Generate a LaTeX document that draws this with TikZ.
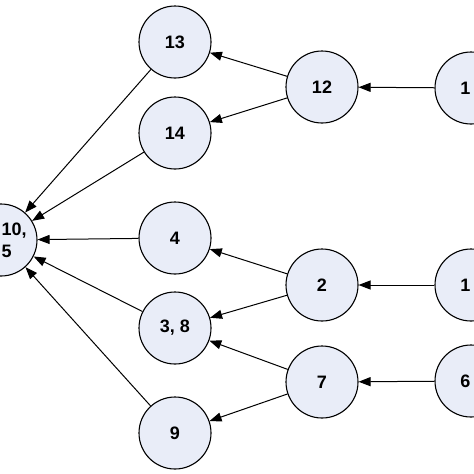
\documentclass[tikz,border=0pt]{standalone}
\usepackage{fontspec}
\setmainfont{Liberation Sans}
\usetikzlibrary{arrows.meta}
\definecolor{nodefill}{HTML}{E9EDF8}
\begin{document}
\begin{tikzpicture}[x=1pt,y=-1pt,
  nd/.style={circle,draw=black,line width=1.1pt,fill=nodefill,minimum size=72pt,inner sep=0pt,font=\bfseries\fontsize{18}{20}\selectfont,align=center},
  conn/.style={draw=black,line width=1pt,-{Triangle[length=12pt,width=9pt]}}]
\useasboundingbox (0,0) rectangle (474,474);
\begin{scope}
\clip (0,0) rectangle (474,474);
\node[nd] (L) at (1,240) {};
\node[font=\bfseries\fontsize{18}{22}\selectfont,align=left,anchor=west] (Lt) at (-2,240) {10,\\5};
\node[nd] (n13) at (175,42) {13};
\node[nd] (n14) at (175,133) {14};
\node[nd] (n12) at (322,87) {12};
\node[nd] (r1) at (471,88) {\hspace*{-11pt}1};
\node[nd] (n4) at (175,238) {4};
\node[nd] (n2) at (322,285) {2};
\node[nd] (r2) at (471,285) {\hspace*{-11pt}1};
\node[nd] (n38) at (175,328) {3, 8};
\node[nd] (n7) at (322,382) {7};
\node[nd] (r6) at (471,381) {\hspace*{-11pt}6};
\node[nd] (n9) at (175,433) {9};
\draw[conn] (r1) -- (n12);
\draw[conn] (n12) -- (n13);
\draw[conn] (n12) -- (n14);
\draw[conn] (n13) -- (L);
\draw[conn] (n14) -- (L);
\draw[conn] (n4) -- (L);
\draw[conn] (n38) -- (L);
\draw[conn] (n9) -- (L);
\draw[conn] (r2) -- (n2);
\draw[conn] (n2) -- (n4);
\draw[conn] (n2) -- (n38);
\draw[conn] (r6) -- (n7);
\draw[conn] (n7) -- (n38);
\draw[conn] (n7) -- (n9);
\end{scope}
\end{tikzpicture}
\end{document}
